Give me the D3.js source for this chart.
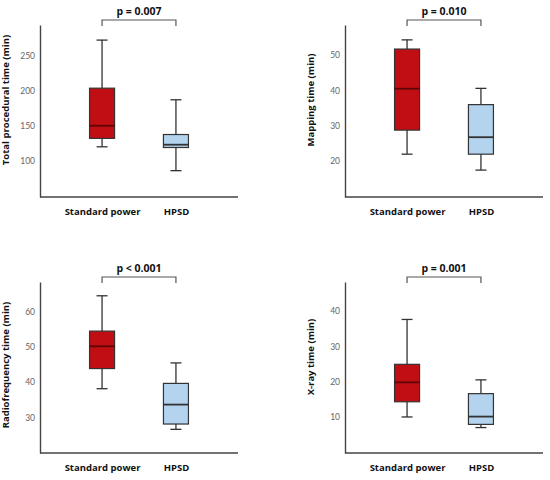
<!DOCTYPE html>
<html><head><meta charset="utf-8">
<script src="https://cdn.jsdelivr.net/npm/d3@7"></script>
<style>body{margin:0;background:#fff;} svg{display:block;}</style>
</head><body>
<svg id="chart" width="550" height="480"></svg>
<script>
// ---- data ----
const groups = ["Standard power", "HPSD"];
const titles = ["Total procedural time (min)", "Mapping time (min)", "Radiofrequency time (min)", "X-ray time (min)"];
const pValues = ["p = 0.007", "p = 0.010", "p < 0.001", "p = 0.001"];
// [whiskerLow, Q1, median, Q3, whiskerHigh] per group
const totalTime = [[120, 132, 150, 203.5, 272], [86, 119, 123, 137.5, 187]];
const mappingTime = [[22, 28.8, 40.5, 51.7, 54.3], [17.5, 22, 26.8, 36, 40.6]];
const rfTime = [[38.1, 43.8, 50.1, 54.4, 64.4], [26.6, 28.1, 33.6, 39.6, 45.4]];
const xrayTime = [[10, 14.3, 19.8, 24.9, 37.6], [7, 7.9, 10.1, 16.6, 20.5]];
const tickValues = [[100, 150, 200, 250], [20, 30, 40, 50], [30, 40, 50, 60], [10, 20, 30, 40]];
const domains = [[48.5, 293.5], [9.9, 58.5], [19.9, 68.3], [-0.2, 48.2]];
const series = [totalTime, mappingTime, rfTime, xrayTime];

// ---- layout ----
const panels = [
  {x0: 40, x1: 238, y0: 25, y1: 197, titleY: 100},
  {x0: 345, x1: 543, y0: 25, y1: 197, titleY: 100},
  {x0: 40, x1: 238, y0: 282, y1: 453, titleY: 365},
  {x0: 345, x1: 543, y0: 282, y1: 453, titleY: 357}
];
const fills = ["#C10E14", "#B3D3EF"];
const medianColors = ["#5E0606", "#333333"];
const fontBold = "'Open Sans', 'DejaVu Sans', sans-serif";

const svg = d3.select("#chart");

panels.forEach((p, i) => {
  const g = svg.append("g");
  const x = d3.scalePoint().domain(groups).range([p.x0, p.x1]).padding(0.84);
  const y = d3.scaleLinear().domain(domains[i]).range([p.y1, p.y0]);

  // axes
  const ya = g.append("g").attr("transform", `translate(${p.x0},0)`)
    .call(d3.axisLeft(y).tickValues(tickValues[i]).tickSize(0).tickPadding(5));
  ya.select(".domain").attr("stroke", "#444").attr("stroke-width", 1.4);
  ya.selectAll("text").attr("fill", "#666").style("font-family", "'Lato', 'DejaVu Sans', sans-serif").style("font-size", "8.5px");

  const xa = g.append("g").attr("transform", `translate(0,${p.y1})`)
    .call(d3.axisBottom(x).tickSize(0).tickPadding(11));
  xa.select(".domain").attr("stroke", "#444").attr("stroke-width", 1.4)
    .attr("d", `M${p.x0},0H${p.x1}`);
  xa.selectAll("text").attr("fill", "#111").style("font-family", fontBold)
    .style("font-size", "9.5px").style("font-weight", "bold");

  // y title
  g.append("text")
    .attr("transform", `translate(${p.x0 - 31},${p.titleY}) rotate(-90)`)
    .attr("text-anchor", "middle")
    .style("font-family", fontBold).style("font-size", "9.5px").style("font-weight", "bold")
    .attr("fill", "#111")
    .text(titles[i]);

  // boxes
  const bw = 25, cw = 11;
  series[i].forEach((d, j) => {
    const cx = x(groups[j]);
    const [lo, q1, med, q3, hi] = d;
    const bg = g.append("g");
    bg.append("line").attr("x1", cx).attr("x2", cx).attr("y1", y(hi)).attr("y2", y(q3)).attr("stroke", "#333").attr("stroke-width", 1.3);
    bg.append("line").attr("x1", cx).attr("x2", cx).attr("y1", y(q1)).attr("y2", y(lo)).attr("stroke", "#333").attr("stroke-width", 1.3);
    bg.append("line").attr("x1", cx - cw / 2).attr("x2", cx + cw / 2).attr("y1", y(hi)).attr("y2", y(hi)).attr("stroke", "#333").attr("stroke-width", 1.3);
    bg.append("line").attr("x1", cx - cw / 2).attr("x2", cx + cw / 2).attr("y1", y(lo)).attr("y2", y(lo)).attr("stroke", "#333").attr("stroke-width", 1.3);
    bg.append("rect").attr("x", cx - bw / 2).attr("width", bw)
      .attr("y", y(q3)).attr("height", y(q1) - y(q3))
      .attr("fill", fills[j]).attr("stroke", "#333").attr("stroke-width", 1.2);
    bg.append("line").attr("x1", cx - bw / 2).attr("x2", cx + bw / 2).attr("y1", y(med)).attr("y2", y(med))
      .attr("stroke", medianColors[j]).attr("stroke-width", 1.8);
  });

  // bracket
  const by = p.y0 - 5, bt = 6;
  const xa1 = x(groups[0]), xa2 = x(groups[1]);
  g.append("path")
    .attr("d", `M${xa1},${by + bt}V${by}H${xa2}V${by + bt}`)
    .attr("fill", "none").attr("stroke", "#555").attr("stroke-width", 1.2);
  g.append("text")
    .attr("x", (xa1 + xa2) / 2).attr("y", by - 5)
    .attr("text-anchor", "middle")
    .style("font-family", fontBold).style("font-size", "10.5px").style("font-weight", "bold")
    .attr("fill", "#111")
    .text(pValues[i]);
});
</script>
</body></html>
